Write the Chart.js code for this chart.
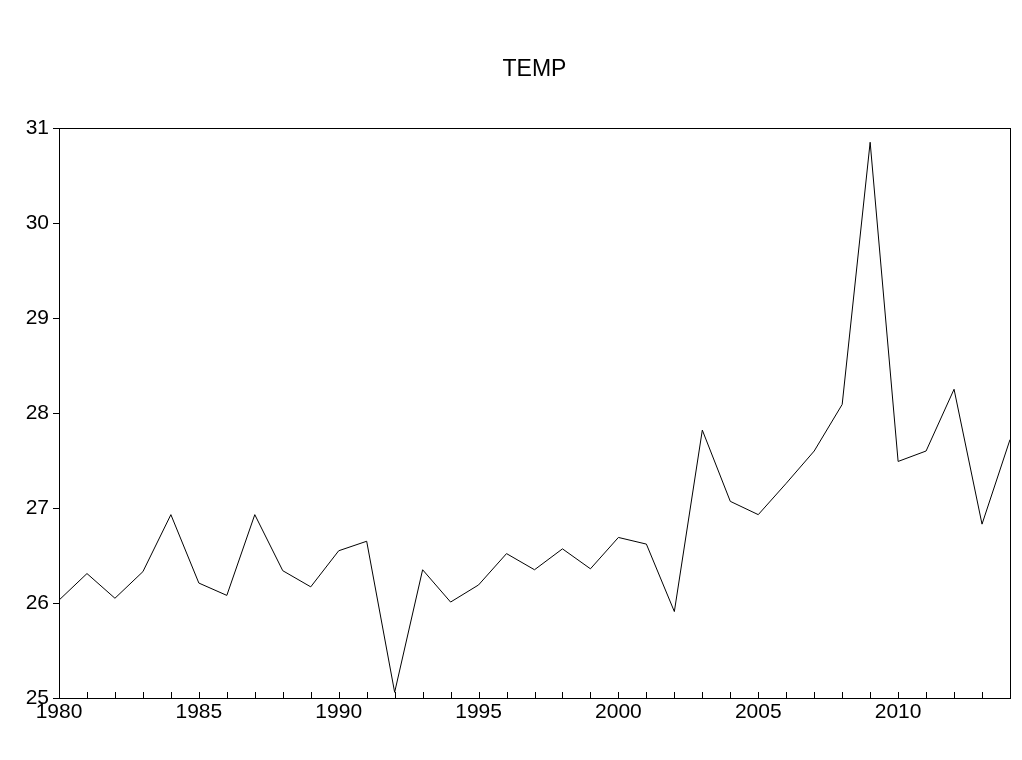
<!DOCTYPE html>
<html>
<head>
<meta charset="utf-8">
<script src="https://cdn.jsdelivr.net/npm/chart.js@4/dist/chart.umd.min.js"></script>
<style>
  body { margin: 0; background: #fff; }
  #chart { display: block; }
</style>
</head>
<body>
<canvas id="chart" width="1022" height="760"></canvas>
<script>
const years = [1980, 1981, 1982, 1983, 1984, 1985, 1986, 1987, 1988, 1989,
    1990, 1991, 1992, 1993, 1994, 1995, 1996, 1997, 1998, 1999,
    2000, 2001, 2002, 2003, 2004, 2005, 2006, 2007, 2008, 2009,
    2010, 2011, 2012, 2013, 2014];
const temp = [26.03, 26.31, 26.05, 26.33, 26.93, 26.21, 26.08, 26.93, 26.34, 26.17,
    26.55, 26.65, 25.06, 26.35, 26.01, 26.19, 26.52, 26.35, 26.57, 26.36,
    26.69, 26.62, 25.91, 27.82, 27.07, 26.93, 27.26, 27.60, 28.09, 30.85,
    27.49, 27.60, 28.25, 26.83, 27.72];
const xLabels = [1980, 1985, 1990, 1995, 2000, 2005, 2010];
const yTicks = [25, 26, 27, 28, 29, 30, 31];
const chartTitle = 'TEMP';
const FONT = 'Arial, "Liberation Sans", sans-serif';

// year ticks inside the plot, frame and title
const decorations = {
    id: 'decorations',
    afterDatasetsDraw(chart) {
        const { ctx, chartArea, scales } = chart;
        ctx.save();
        ctx.strokeStyle = '#000';
        ctx.lineWidth = 1;
        ctx.beginPath();
        years.forEach(y => {
            const x = Math.round(scales.x.getPixelForValue(y)) + 0.5;
            ctx.moveTo(x, chartArea.bottom);
            ctx.lineTo(x, chartArea.bottom - 6);
        });
        ctx.stroke();
        ctx.strokeRect(chartArea.left + 0.5, chartArea.top + 0.5,
            chartArea.right - chartArea.left, chartArea.bottom - chartArea.top);
        ctx.fillStyle = '#000';
        ctx.font = '23px ' + FONT;
        ctx.textAlign = 'center';
        ctx.textBaseline = 'middle';
        ctx.fillText(chartTitle, (chartArea.left + chartArea.right) / 2, 70);
        ctx.restore();
    }
};

new Chart(document.getElementById('chart'), {
    type: 'line',
    data: {
        datasets: [{
            label: chartTitle,
            data: years.map((y, i) => ({ x: y, y: temp[i] })),
            borderColor: '#000',
            borderWidth: 1,
            pointRadius: 0,
            tension: 0
        }]
    },
    options: {
        responsive: false,
        animation: false,
        layout: { padding: { top: 128, right: 12, left: 0, bottom: 0 } },
        scales: {
            x: {
                type: 'linear',
                min: 1980,
                max: 2014,
                afterBuildTicks: s => { s.ticks = xLabels.map(v => ({ value: v })); },
                afterFit: s => { s.height = 62; },
                ticks: { color: '#000', font: { family: FONT, size: 21 }, padding: 2, maxRotation: 0, callback: v => String(v) },
                grid: { drawOnChartArea: false, tickLength: 0, color: '#000' },
                border: { color: '#000' }
            },
            y: {
                min: 25,
                max: 31,
                afterBuildTicks: s => { s.ticks = yTicks.map(v => ({ value: v })); },
                afterFit: s => { s.width = 59; },
                ticks: { color: '#000', font: { family: FONT, size: 21 }, padding: 4, callback: v => String(v) },
                grid: { drawOnChartArea: false, tickLength: 6, color: '#000' },
                border: { color: '#000' }
            }
        },
        plugins: {
            legend: { display: false },
            tooltip: { enabled: false },
            title: { display: false }
        }
    },
    plugins: [decorations]
});
</script>
</body>
</html>
